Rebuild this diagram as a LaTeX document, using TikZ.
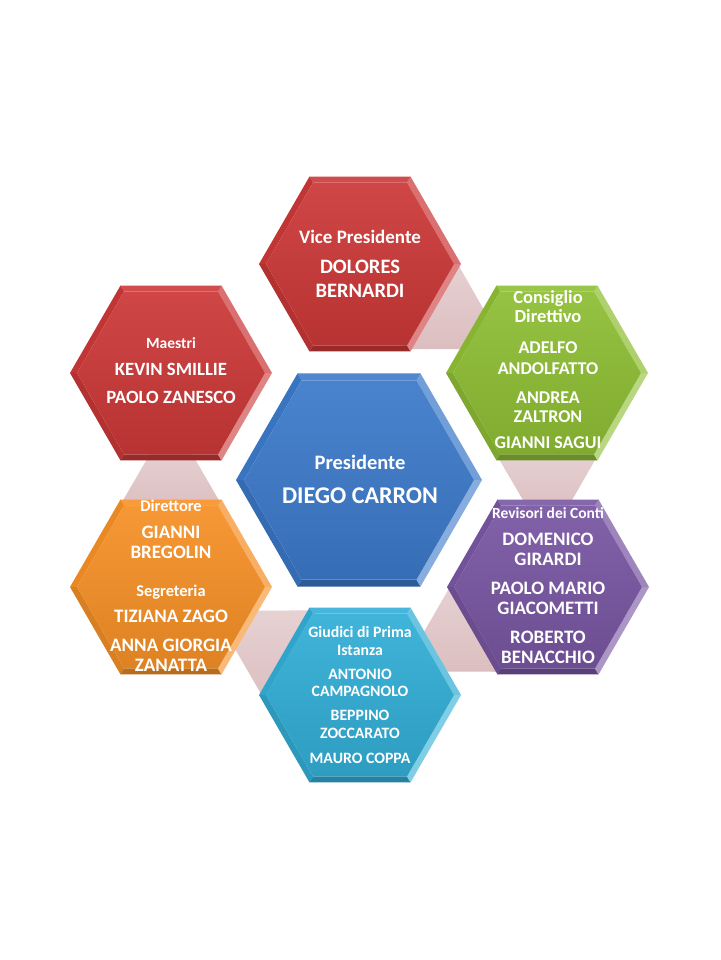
\documentclass[tikz,border=0pt]{standalone}
\usepackage{fontspec}
\setmainfont{Carlito}
\usetikzlibrary{calc}
\definecolor{hred}{RGB}{204,56,56}
\definecolor{hgreen}{RGB}{142,190,52}
\definecolor{hblue}{RGB}{60,122,202}
\definecolor{hpurple}{RGB}{120,86,162}
\definecolor{hcyan}{RGB}{50,174,214}
\definecolor{horange}{RGB}{246,144,38}
\definecolor{bandpink}{RGB}{220,190,192}
\tikzset{
  txt/.style={text=white, anchor=base, inner sep=0pt},
  band/.style={top color=bandpink!70!white, bottom color=bandpink},
}
% #1 centre name, #2 outer radius, #3 inner radius, #4 colour
\newcommand\hexcell[4]{%
  \foreach \a/\b/\m in {0/60/72!white,60/120/90!white,120/180/95!black,180/240/88!black,240/300/75!black,300/360/62!white}{
    \fill[fill={#4!\m}] ($(#1)+(\a:#2pt)$) -- ($(#1)+(\b:#2pt)$) -- ($(#1)+(\b:#3pt)$) -- ($(#1)+(\a:#3pt)$) -- cycle;
  }
  \shade[top color=#4!93!white, bottom color=#4!90!black]
    ($(#1)+(0:#3pt)$) -- ($(#1)+(60:#3pt)$) -- ($(#1)+(120:#3pt)$) -- ($(#1)+(180:#3pt)$) -- ($(#1)+(240:#3pt)$) -- ($(#1)+(300:#3pt)$) -- cycle;
}
% band from #1 (wide end) to #2 (narrow end)
\newcommand\hexband[2]{%
  \path[band] ($(#1)!78pt!(#2)!53pt!90:(#2)$) -- ($(#1)!140pt!(#2)!17pt!90:(#2)$) -- ($(#1)!140pt!(#2)!17pt!-90:(#2)$) -- ($(#1)!78pt!(#2)!53pt!-90:(#2)$) -- cycle;
}
\begin{document}
\begin{tikzpicture}[x=1pt,y=-1pt]
\useasboundingbox[fill=white] (0,0) rectangle (720,960);
\coordinate (vp) at (360,264);
\coordinate (cd) at (547,373);
\coordinate (rc) at (548,587);
\coordinate (gp) at (360,695);
\coordinate (dr) at (171,587);
\coordinate (ma) at (171,373);
\coordinate (pr) at (359,480);
% connectors
\hexband{vp}{cd}
\hexband{cd}{rc}
\hexband{rc}{gp}
\hexband{gp}{dr}
\hexband{dr}{ma}
% hexagons
\hexcell{vp}{101}{94}{hred}
\hexcell{ma}{101}{94}{hred}
\hexcell{cd}{101}{94}{hgreen}
\hexcell{rc}{101}{94}{hpurple}
\hexcell{gp}{101}{94}{hcyan}
\hexcell{dr}{101}{94}{horange}
\hexcell{pr}{123}{115}{hblue}
% texts
\foreach \t/\y/\s [count=\i] in {{Vice Presidente}/237/19, DOLORES/267.5/20.5, BERNARDI/291/20.5}
  \node[txt, font=\fontsize{\s}{\s}\selectfont\bfseries] (tvp\i) at (360,{\y+0.316*\s}) {\t};
\foreach \t/\y/\s [count=\i] in {Maestri/344/15.5, {KEVIN SMILLIE}/370/18.7, {PAOLO ZANESCO}/397.5/18.7}
  \node[txt, font=\fontsize{\s}{\s}\selectfont\bfseries] (tma\i) at (171,{\y+0.316*\s}) {\t};
\foreach \t/\y/\s [count=\i] in {Presidente/463/20.5, {DIEGO CARRON}/495.5/24}
  \node[txt, font=\fontsize{\s}{\s}\selectfont\bfseries] (tpr\i) at (360,{\y+0.316*\s}) {\t};
\foreach \t/\y/\s [count=\i] in {Consiglio/297.5/18.5, Direttivo/317/18.5, ADELFO/348/18, ANDOLFATTO/368.7/18, ANDREA/397.5/18, ZALTRON/416.7/18, {GIANNI SAGUI}/442.5/18}
  \node[txt, font=\fontsize{\s}{\s}\selectfont\bfseries] (tcd\i) at (548,{\y+0.316*\s}) {\t};
\foreach \t/\y/\s [count=\i] in {Direttore/506.3/16.4, GIANNI/532.5/19, BREGOLIN/552/19, Segreteria/591.3/16.4, {TIZIANA ZAGO}/616/19, {ANNA GIORGIA}/645/19, ZANATTA/665/19}
  \node[txt, font=\fontsize{\s}{\s}\selectfont\bfseries] (tdr\i) at (171,{\y+0.316*\s}) {\t};
\foreach \t/\y/\s [count=\i] in {{Revisori dei Conti}/513.3/15.5, DOMENICO/539.7/19, GIRARDI/559.3/19, {PAOLO MARIO}/588.3/19, GIACOMETTI/608.3/19, ROBERTO/637.5/19, BENACCHIO/657.5/19}
  \node[txt, font=\fontsize{\s}{\s}\selectfont\bfseries] (trc\i) at (548,{\y+0.316*\s}) {\t};
\foreach \t/\y/\s [count=\i] in {{Giudici di Prima}/632/15.8, Istanza/650.2/15.8, ANTONIO/674.2/15.8, CAMPAGNOLO/691.7/15.8, BEPPINO/715.8/15.8, ZOCCARATO/733.8/15.8, {MAURO COPPA}/758/15.8}
  \node[txt, font=\fontsize{\s}{\s}\selectfont\bfseries] (tgp\i) at (360,{\y+0.316*\s}) {\t};
\end{tikzpicture}
\end{document}
